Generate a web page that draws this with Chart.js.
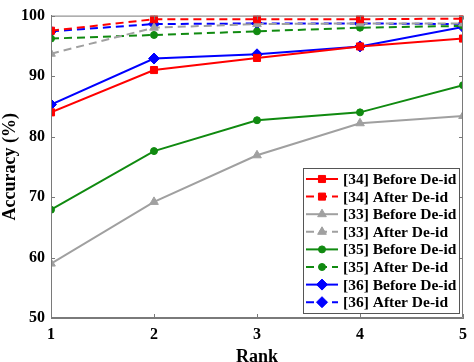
<!DOCTYPE html>
<html>
<head>
<meta charset="utf-8">
<script src="https://cdn.jsdelivr.net/npm/chart.js@4.4.1/dist/chart.umd.min.js"></script>
<style>
html,body{margin:0;padding:0;background:#fff;}
#wrap{width:474px;height:362px;position:relative;}
</style>
</head>
<body>
<div id="wrap"><canvas id="c" width="474" height="362"></canvas></div>
<script>
const ranks = [1, 2, 3, 4, 5];
const yTicks = [50, 60, 70, 80, 90, 100];
const seriesNames = ['[34] Before De-id','[34] After De-id','[33] Before De-id','[33] After De-id','[35] Before De-id','[35] After De-id','[36] Before De-id','[36] After De-id'];
const before34 = [84.0, 91.0, 93.0, 94.9, 96.2];
const after34  = [97.5, 99.4, 99.4, 99.4, 99.5];
const before33 = [59.0, 69.2, 76.9, 82.2, 83.4];
const after33  = [93.7, 98.0, 98.6, 98.7, 98.7];
const before35 = [67.9, 77.6, 82.7, 84.0, 88.5];
const after35  = [96.2, 96.8, 97.4, 98.0, 98.3];
const before36 = [85.3, 92.9, 93.6, 94.9, 98.1];
const after36  = [97.4, 98.6, 98.7, 98.7, 98.6];

const RED='#ff0000', GRAY='#a0a0a0', GREEN='#108a10', BLUE='#0000ff';
const DASH=[8,5];
function ds(label, values, color, style, radius, dashed){
  return {
    label, data: values.map((v,i)=>({x:ranks[i], y:v})),
    borderColor: color, backgroundColor: color, borderWidth: 2,
    borderDash: dashed ? DASH : [],
    pointStyle: style, pointRadius: radius, pointHoverRadius: radius,
    pointBorderWidth: 1, pointBorderColor: color, pointBackgroundColor: color,
    tension: 0, fill: false
  };
}
const datasets = [
  ds(seriesNames[0], before34, RED, 'rect', 5, false),
  ds(seriesNames[1], after34, RED, 'rect', 5, true),
  ds(seriesNames[2], before33, GRAY, 'triangle', 5, false),
  ds(seriesNames[3], after33, GRAY, 'triangle', 5, true),
  ds(seriesNames[4], before35, GREEN, 'circle', 3.5, false),
  ds(seriesNames[5], after35, GREEN, 'circle', 3.5, true),
  ds(seriesNames[6], before36, BLUE, 'rectRot', 5.5, false),
  ds(seriesNames[7], after36, BLUE, 'rectRot', 5.5, true)
];
const AXIS='#7a7a7a';
const FONT='"Liberation Serif","Times New Roman",serif';

const framePlugin = {
  id:'frame',
  afterDatasetsDraw(chart){
    const {ctx, chartArea:a, scales:{x, y}} = chart;
    ctx.save();
    ctx.strokeStyle = AXIS; ctx.lineWidth = 1;
    ctx.beginPath();
    ctx.rect(a.left+0.5, a.top+0.5, a.right-a.left-1, a.bottom-a.top-1);
    ctx.stroke();
    const L=4;
    ctx.beginPath();
    ranks.forEach(r=>{
      const px=Math.round(x.getPixelForValue(r))+0.5;
      ctx.moveTo(px,a.bottom); ctx.lineTo(px,a.bottom-L);
      ctx.moveTo(px,a.top); ctx.lineTo(px,a.top+L);
    });
    yTicks.forEach(t=>{
      const py=Math.round(y.getPixelForValue(t))+0.5;
      ctx.moveTo(a.left,py); ctx.lineTo(a.left+L,py);
      ctx.moveTo(a.right,py); ctx.lineTo(a.right-L,py);
    });
    ctx.stroke();
    ctx.restore();
  },
  afterDraw(chart){
    const {ctx, chartArea:a} = chart;
    const boxR = a.right-4, boxB = a.bottom-5, boxW = 156, rowH = 17.6, boxH = 145;
    const boxL = boxR-boxW, boxT = boxB-boxH;
    ctx.save();
    ctx.fillStyle='#fff';
    ctx.fillRect(boxL, boxT, boxW, boxH);
    ctx.strokeStyle='#555'; ctx.lineWidth=1;
    ctx.strokeRect(Math.round(boxL)+0.5, Math.round(boxT)+0.5, boxW, boxH);
    chart.data.datasets.forEach((d,i)=>{
      const cy = boxT + 11 + i*rowH;
      ctx.strokeStyle=d.borderColor; ctx.lineWidth=2;
      ctx.setLineDash(d.borderDash||[]);
      ctx.beginPath(); ctx.moveTo(boxL+3, cy); ctx.lineTo(boxL+35, cy); ctx.stroke();
      ctx.setLineDash([]);
      ctx.fillStyle=d.pointBackgroundColor; ctx.strokeStyle=d.pointBorderColor; ctx.lineWidth=1;
      Chart.helpers.drawPoint(ctx, {pointStyle:d.pointStyle, radius:d.pointRadius, borderWidth:1}, boxL+19, cy);
      ctx.fillStyle='#000';
      ctx.font='bold 15.5px '+FONT;
      ctx.textBaseline='middle'; ctx.textAlign='left';
      ctx.fillText(d.label, boxL+40, cy+1);
    });
    ctx.restore();
  }
};

new Chart(document.getElementById('c'), {
  type:'line',
  data:{datasets},
  options:{
    responsive:false, animation:false,
    layout:{padding:{left:0, right:6, top:6, bottom:0}},
    plugins:{legend:{display:false}, tooltip:{enabled:false}},
    scales:{
      x:{type:'linear', min:1, max:5,
        afterFit(s){ s.height = 44; },
        afterBuildTicks(s){ s.ticks = ranks.map(v=>({value:v})); },
        grid:{display:false, drawTicks:false},
        border:{display:true, color:AXIS, width:1},
        ticks:{padding:7, color:'#000', font:{family:FONT, size:16, weight:'bold'}},
        title:{display:true, text:'Rank', color:'#000', font:{family:FONT, size:18, weight:'bold'}, padding:{top:0, bottom:-6}}
      },
      y:{min:50, max:100,
        afterFit(s){ s.width = 51; },
        afterBuildTicks(s){ s.ticks = yTicks.map(v=>({value:v})); },
        grid:{display:false, drawTicks:false},
        border:{display:true, color:AXIS, width:1},
        ticks:{padding:6, color:'#000', font:{family:FONT, size:16, weight:'bold'}},
        title:{display:true, text:'Accuracy (%)', color:'#000', font:{family:FONT, size:18, weight:'bold'}, padding:{top:0, bottom:0}}
      }
    }
  },
  plugins:[framePlugin]
});
</script>
</body>
</html>
